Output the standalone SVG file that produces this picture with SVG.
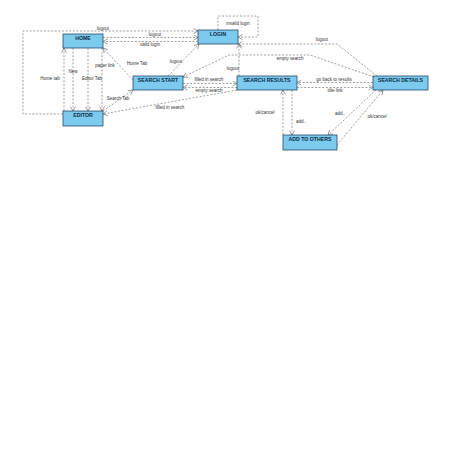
<svg xmlns="http://www.w3.org/2000/svg" width="452" height="452" viewBox="0 0 452 452">
<style>
.n{fill:#7ccaee;stroke:#2a4a66;stroke-width:0.8}
.nt{font-family:"Liberation Sans",Arial,sans-serif;font-size:5.2px;font-weight:bold;fill:#0d2a45;text-anchor:middle}
.e{fill:none;stroke:#777;stroke-width:0.7;stroke-dasharray:2,1.6;marker-end:url(#a)}
.l{font-family:"Liberation Sans",Arial,sans-serif;font-size:4.5px;fill:#333;text-anchor:middle}
</style>
<defs>
<marker id="a" markerUnits="userSpaceOnUse" markerWidth="8" markerHeight="8" refX="5" refY="3" orient="auto">
<path d="M0.5,0.5 L5,3 L0.5,5.5" fill="none" stroke="#777" stroke-width="0.7"/>
</marker>
</defs>
<rect width="452" height="452" fill="#fff"/>
<g id="connectors">
<path class="e" d="M63,114 L23,114 L23,31 L198,31"/>
<path class="e" d="M103,37.5 L198,37.5"/>
<path class="e" d="M198,41.5 L103,41.5"/>
<path class="e" d="M64,111 L64,48"/>
<path class="e" d="M73,48 L73,111"/>
<path class="e" d="M88,48 L88,111"/>
<path class="e" d="M102,48 L102,111"/>
<path class="e" d="M133,80 L103,48"/>
<path class="e" d="M103,111 L133,90"/>
<path class="e" d="M237,90 L103,114"/>
<path class="e" d="M183,83.5 L237,83.5"/>
<path class="e" d="M237,87.5 L183,87.5"/>
<path class="e" d="M168,76 L199,44"/>
<path class="e" d="M239,76 L239,44"/>
<path class="e" d="M374,77 L310,55 L229,55 L183,77"/>
<path class="e" d="M377,76 L337,44 L238,44"/>
<path class="e" d="M373,82.5 L297,82.5"/>
<path class="e" d="M297,87.5 L373,87.5"/>
<path class="e" d="M283,135 L283,90"/>
<path class="e" d="M292,90 L292,135"/>
<path class="e" d="M376,90 L328,135"/>
<path class="e" d="M337,145 L383,90"/>
<path class="e" d="M218,30 L218,16 L258,16 L258,37 L238,37"/>
</g>
<g id="labels">
<text class="l" x="103" y="30">logout</text>
<text class="l" x="155" y="35.5">logout</text>
<text class="l" x="150" y="46">valid login</text>
<text class="l" x="50" y="80">Home tab</text>
<text class="l" x="73" y="73">New</text>
<text class="l" x="92" y="80">Editor Tab</text>
<text class="l" x="105" y="67">paper link</text>
<text class="l" x="137" y="65">Home Tab</text>
<text class="l" x="118" y="100">Search Tab</text>
<text class="l" x="170" y="109">filled in search</text>
<text class="l" x="209" y="81">filled in search</text>
<text class="l" x="209" y="92">empty search</text>
<text class="l" x="176" y="63">logout</text>
<text class="l" x="233" y="70">logout</text>
<text class="l" x="290" y="59.5">empty search</text>
<text class="l" x="322" y="41">logout</text>
<text class="l" x="334" y="80.5">go back to results</text>
<text class="l" x="335" y="92">title link</text>
<text class="l" x="265" y="113.5">ok/cancel</text>
<text class="l" x="301" y="123">add..</text>
<text class="l" x="340" y="115">add..</text>
<text class="l" x="377" y="118">ok/cancel</text>
<text class="l" x="238" y="24.5">invalid login</text>
</g>
<g id="home"><rect class="n" x="63" y="34" width="40" height="14"/><text class="nt" x="83" y="40">HOME</text></g>
<g id="login"><rect class="n" x="198" y="30" width="40" height="14"/><text class="nt" x="218" y="36">LOGIN</text></g>
<g id="editor"><rect class="n" x="63" y="111" width="40" height="15"/><text class="nt" x="83" y="117">EDITOR</text></g>
<g id="search-start"><rect class="n" x="133" y="76" width="50" height="14"/><text class="nt" x="158" y="82">SEARCH START</text></g>
<g id="search-results"><rect class="n" x="237" y="76" width="60" height="14"/><text class="nt" x="267" y="82">SEARCH RESULTS</text></g>
<g id="search-details"><rect class="n" x="373" y="76" width="55" height="14"/><text class="nt" x="400.5" y="82">SEARCH DETAILS</text></g>
<g id="add-to-others"><rect class="n" x="283" y="135" width="54" height="15"/><text class="nt" x="310" y="141">ADD TO OTHERS</text></g>
</svg>
